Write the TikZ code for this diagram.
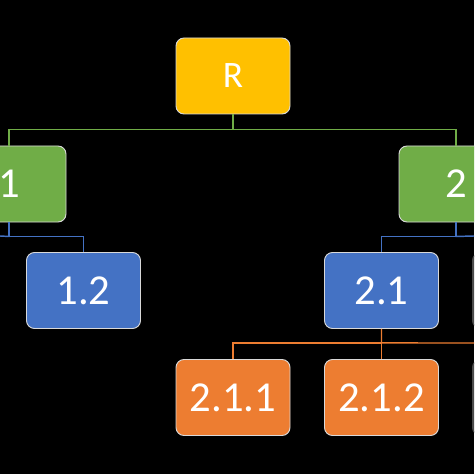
\documentclass[tikz,border=0pt]{standalone}
\usepackage{fontspec}
\setmainfont{Carlito}
\definecolor{cyel}{HTML}{FFC000}
\definecolor{cgrn}{HTML}{70AD47}
\definecolor{cblu}{HTML}{4472C4}
\definecolor{corg}{HTML}{ED7D31}
\definecolor{cgry}{HTML}{4A4A4A}
\begin{document}
\begin{tikzpicture}[x=0.75pt,y=-0.75pt,
  box/.style={rectangle, rounded corners=6pt, minimum width=85.5pt, minimum height=57pt,
    inner sep=0pt, draw=white!85!black, line width=0.7pt, text=white,
    font=\fontsize{32}{36}\selectfont},
  gl/.style={draw=cgrn, line width=1.1pt},
  bl/.style={draw=cblu, line width=1.1pt},
  ol/.style={draw=corg, line width=1.1pt}]
\fill[black] (0,0) rectangle (474,474);
\useasboundingbox (0,0) rectangle (474,474);
\clip (0,0) rectangle (474,474);
% nodes
\node[box, fill=cyel, font=\fontsize{28}{32}\selectfont] (R) at (233,76) {R};
\node[box, fill=cgrn] (n1) at (9,184) {1};
\node[box, fill=cgrn] (n2) at (456,184) {2};
\node[box, fill=cblu] (n12) at (83.5,290.5) {1.2};
\node[box, fill=cblu] (n21) at (381.5,290.5) {2.1};
\node[box, fill=cgry, draw=cgry] (n22) at (529.5,290.5) {};
\node[box, fill=corg] (n211) at (233,397.5) {2.1.1};
\node[box, fill=corg] (n212) at (381.5,397.5) {2.1.2};
\node[box, fill=cgry, draw=cgry] (n213) at (529.5,397.5) {};
\coordinate (Lb) at (0,236);
\coordinate (Rb) at (474,236);
\coordinate (Ro) at (474,343);
% connectors
\draw[gl] (R.south) -- ++(0,15) -| (n1.north);
\draw[gl] (R.south) -- ++(0,15) -| (n2.north);
\draw[bl] (n1.south) -- ++(0,14) -| (n12.north);
\draw[bl] (n1.south) -- ++(0,14) -- (Lb);
\draw[bl] (n2.south) -- ++(0,14) -| (n21.north);
\draw[bl] (n2.south) -- ++(0,14) -- (Rb);
\draw[ol] (n21.south) -- ++(0,14) -| (n211.north);
\draw[ol] (n21.south) -- (n212.north);
\draw[ol] (n21.south) -- ++(0,14) -- (Ro);
\end{tikzpicture}
\end{document}
